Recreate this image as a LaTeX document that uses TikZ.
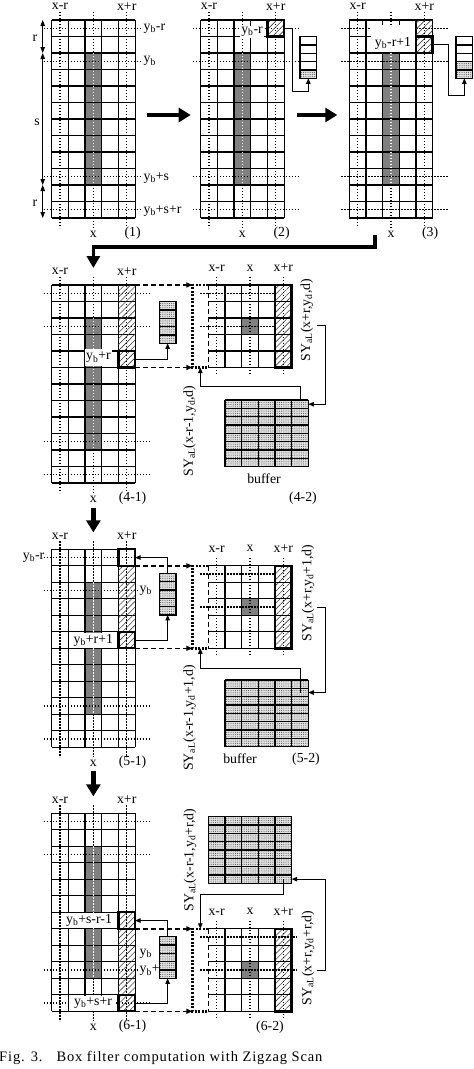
\documentclass[tikz,border=0pt]{standalone}
\usepackage{fontspec}
\setmainfont{Liberation Serif}
\newfontfamily\capfont[LetterSpace=6]{Liberation Serif}
\usepackage{tikz}
\usetikzlibrary{arrows.meta}
\usetikzlibrary{patterns.meta}
\usetikzlibrary{calc}
\tikzset{ cell_line/.style = {line width=1.1pt} }
\tikzset{ guide_line/.style = {line width=1.2pt, dash pattern=on 1.2pt off 1.8pt} }
\tikzset{ dash_line/.style = {line width=1.4pt, dash pattern=on 5pt off 3pt} }
\tikzset{ prev_col/.style = {line width=2.6pt, dash pattern=on 2pt off 1.6pt} }
\tikzset{ col_gray/.style = {fill=black!50} }
\tikzset{ hatch_fill/.style = {pattern={Lines[angle=45,distance=4.2pt,line width=0.6pt]}, pattern color=black!75} }
\tikzset{ stipple_fill/.style = {preaction={fill=black!12}, pattern={Dots[distance=2.2pt,radius=0.5pt]}, pattern color=black!70} }
\tikzset{ hot_cell/.style = {draw, line width=2.3pt, minimum width=16.67pt, minimum height=16.5pt, inner sep=0pt, outer sep=0pt} }
\tikzset{ grid_frame/.style = {inner sep=0pt, outer sep=0pt} }
\tikzset{ stack_box/.style = {fill=white, minimum width=16.67pt, minimum height=41.65pt, inner sep=0pt, outer sep=0pt} }
\tikzset{ buf_box/.style = {minimum width=83.35pt, minimum height=66.64pt, inner sep=0pt, outer sep=0pt} }
\tikzset{ lbl/.style = {font=\fontsize{13.8}{15}\selectfont, inner sep=0.5pt} }
\tikzset{ lbl_box/.style = {lbl, fill=white, inner sep=1pt} }
\tikzset{ side_lbl/.style = {lbl, rotate=90} }
\tikzset{ conn/.style = {line width=1pt, -{Triangle[length=5.5pt,width=4.5pt]}} }
\tikzset{ dim_arrow/.style = {line width=1pt, {Triangle[length=6pt,width=4.5pt]}-{Triangle[length=6pt,width=4.5pt]}} }
\tikzset{ dash_arrow/.style = {dash_line, -{Triangle[length=6pt,width=5pt]}} }
\tikzset{ big_arrow/.style = {line width=4.5pt, -{Triangle[length=12pt,width=14pt]}} }
\tikzset{ bend_arrow/.style = {line width=3.2pt, -{Triangle[length=12pt,width=13pt]}} }

\newcommand{\cellw}{16.67}
\newcommand{\cellh}{16.5}
\newcommand{\rowb}{8.33}

% 5x12 image window: name, left, top, panel label, guide overhang
\newcommand{\tallgrid}[5]{%
  \node[grid_frame, minimum width=83.35pt, minimum height=198pt] (#1) at ({#2+41.675},{#3+99}) {};
  \fill[col_gray] ({#2+2*\cellw},{#3+2*\cellh}) rectangle ++(\cellw,{8*\cellh});
  \foreach \i in {0,...,5}
    \draw[cell_line] ({#2+\i*\cellw},#3) -- ++(0,{12*\cellh});
  \foreach \j in {0,...,12}
    \draw[cell_line] (#2,{#3+\j*\cellh}) -- ++({5*\cellw},0);
  \foreach \i in {0.5,4.5}
    \draw[guide_line] ({#2+\i*\cellw},{#3-8}) -- ++(0,{12*\cellh+18});
  \draw[guide_line] ({#2+2.5*\cellw},{#3-8}) -- ++(0,{2*\cellh+8});
  \draw[guide_line, white] ({#2+2.5*\cellw},{#3+2*\cellh}) -- ++(0,{8*\cellh});
  \draw[guide_line] ({#2+2.5*\cellw},{#3+10*\cellh}) -- ++(0,{2*\cellh+10});
  \foreach \j in {0.5,2.5,9.5,11.5}
    \draw[guide_line] ({#2-8},{#3+\j*\cellh}) -- ++({5*\cellw+8+#5},0);
  \node[lbl] (#1xl) at ({#2+0.5*\cellw},{#3-13.5}) {x-r};
  \node[lbl] (#1xr) at ({#2+4.5*\cellw},{#3-13.5}) {x+r};
  \node[lbl] (#1x) at ({#2+2.5*\cellw},{#3+12*\cellh+16}) {x};
  \node[lbl] (#1n) at ({#2+4.85*\cellw},{#3+12*\cellh+15}) {#4};
}

% 5x5 window with previous column: name, left, top, row guide length
\newcommand{\smallgrid}[4]{%
  \node[grid_frame, minimum width=83.35pt, minimum height=82.5pt] (#1) at ({#2+41.675},{#3+41.25}) {};
  \node[grid_frame, minimum width=16pt, minimum height=82.5pt] (#1p) at ({#2-8},{#3+41.25}) {};
  \fill[col_gray] ({#2+2*\cellw},{#3+2*\cellh}) rectangle ++(\cellw,\cellh);
  \fill[hatch_fill] ({#2+4*\cellw},#3) rectangle ++(\cellw,{5*\cellh});
  \foreach \i in {1,...,5}
    \draw[cell_line] ({#2+\i*\cellw},#3) -- ++(0,{5*\cellh});
  \foreach \j in {0,...,5}
    \draw[cell_line] (#2,{#3+\j*\cellh}) -- ++({5*\cellw},0);
  \draw[dash_line] (#2,#3) -- ++(0,{5*\cellh});
  \foreach \i in {0.5,2.5,4.5}
    \draw[guide_line] ({#2+\i*\cellw},{#3-8}) -- ++(0,{5*\cellh+16});
  \foreach \j in {0.5,2.5}
    \draw[guide_line] ({#2-8},{#3+\j*\cellh}) -- ++(#4,0);
  \draw[line width=2.5pt] ({#2+4*\cellw},#3) rectangle ++(\cellw,{5*\cellh});
  \draw[prev_col] (#2,#3) -- ++(-16,0) -- ++(0,{5*\cellh}) -- ++(16,0);
  \node[lbl] (#1xl) at ({#2+0.5*\cellw},{#3-17}) {x-r};
  \node[lbl] (#1x) at ({#2+2.5*\cellw},{#3-17}) {x};
  \node[lbl] (#1xr) at ({#2+4.5*\cellw},{#3-17}) {x+r};
}

% column buffer: name, left, top, first filled row
\newcommand{\stackcol}[4]{%
  \node[stack_box] (#1) at ({#2+\cellw/2},{#3+20.825}) {};
  \foreach \j in {#4,...,5}
    \fill[stipple_fill] (#2,{#3+(\j-1)*\rowb}) rectangle ++(\cellw,\rowb);
  \foreach \j in {1,...,4}
    \draw[cell_line] (#2,{#3+\j*\rowb}) -- ++(\cellw,0);
  \draw[cell_line] (#2,#3) rectangle ++(\cellw,{5*\rowb});
}

% 5x8 buffer: name, left, top
\newcommand{\bufgrid}[3]{%
  \node[buf_box] (#1) at ({#2+41.675},{#3+33.32}) {};
  \fill[stipple_fill] (#2,#3) rectangle ++({5*\cellw},{8*\rowb});
  \foreach \i in {0,...,5}
    \draw[cell_line] ({#2+\i*\cellw},#3) -- ++(0,{8*\rowb});
  \foreach \j in {0,...,8}
    \draw[cell_line] (#2,{#3+\j*\rowb}) -- ++({5*\cellw},0);
}

\begin{document}
\begin{tikzpicture}[x=1pt, y=-1pt]
    \useasboundingbox (0,0) rectangle (474,1069);

    % step (1)
    \tallgrid{g1}{51.7}{20}{(1)}{6.5}
    \coordinate (dr0) at (42.7,20);
    \coordinate (dr1) at (42.7,53);
    \coordinate (dr2) at (42.7,185);
    \coordinate (dr3) at (42.7,218);
    \draw[dim_arrow] (dr0) -- (dr1);
    \draw[dim_arrow] (dr1) -- (dr2);
    \draw[dim_arrow] (dr2) -- (dr3);
    \node[lbl] (dimr1) at (35,38) {r};
    \node[lbl] (dims) at (37,122) {s};
    \node[lbl] (dimr2) at (35,203) {r};
    \node[lbl, anchor=west] (yl1) at (143,28.25) {y\textsubscript{b}-r};
    \node[lbl, anchor=west] (yl2) at (143,61.25) {y\textsubscript{b}};
    \node[lbl, anchor=west] (yl3) at (143,177.75) {y\textsubscript{b}+s};
    \node[lbl, anchor=west] (yl4) at (143,210.75) {y\textsubscript{b}+s+r};

    % step (2)
    \tallgrid{g2}{200.7}{20}{(2)}{14}
    \fill[hatch_fill] (267.38,20) rectangle ++(16.67,16.5);
    \node[hot_cell] (h2) at (275.7,28.25) {};
    \node[lbl_box] (h2l) at (252,32) {y\textsubscript{b}-r};
    \stackcol{s2}{300}{36.7}{5}
    \draw[conn] (h2.east) -- ++(8.3,0) |- ($(s2.south)+(0,13.3)$) -- (s2.south);

    % step (3)
    \tallgrid{g3}{349.3}{20}{(3)}{15.6}
    \fill[hatch_fill] (415.98,20) rectangle ++(16.67,33);
    \node[hot_cell] (h3) at (424.3,44.75) {};
    \fill[white] (371,25) rectangle (415,52);
    \node[lbl] (h3l) at (393,43) {y\textsubscript{b}-r+1};
    \stackcol{s3}{456}{36.7}{4}
    \draw[conn] (h3.east) -- ++(15.6,0) |- ($(s3.south)+(0,16.7)$) -- (s3.south);

    \draw[big_arrow] ([xshift=12pt,yshift=4pt]g1.east) -- ([xshift=-10pt,yshift=4pt]g2.west);
    \draw[big_arrow] ([xshift=13pt,yshift=4pt]g2.east) -- ([xshift=-12pt,yshift=4pt]g3.west);

    % step (4)
    \tallgrid{g41}{51.7}{285}{(4-1)}{16}
    \fill[hatch_fill] (118.38,285) rectangle ++(16.67,82.5);
    \node[hot_cell] (h41) at (126.7,359.25) {};
    \node[lbl_box, minimum width=26pt, minimum height=17pt] (h41l) at (98.5,357.5) {y\textsubscript{b}+r};
    \stackcol{s41}{159.3}{301.7}{1}
    \draw[conn] (h41.east) -| (s41.south);
    \draw[bend_arrow] ([xshift=-16pt,yshift=-17pt]g3.south) -- ++(0,12) -| ([yshift=17pt]g41.north);
    \smallgrid{g42}{208.3}{285}{75}
    \draw[dash_arrow] (g41.north east) -- (g42p.north west);
    \draw[dash_arrow] (h41.south east) -- (g42p.south west);
    \bufgrid{b42}{225}{400}
    \node[side_lbl] (l42l) at (189.5,431) {SY\textsubscript{aL}(x-r-1,y\textsubscript{d},d)};
    \node[side_lbl] (l42r) at (306.7,320) {SY\textsubscript{aL}(x+r,y\textsubscript{d},d)};
    \coordinate (l42o) at (316.7,325.9);
    \draw[conn] (l42o) -- ++(8.3,0) |- ($(b42.north east)+(0,4.2)$);
    \draw[conn] ($(b42.north east)+(-8.3,0)$) -- ++(0,-13.3) -| (g42p.south);
    \node[lbl] (b42t) at (264,478.3) {buffer};
    \node[lbl] (g42n) at (303,498) {(4-2)};

    % step (5)
    \tallgrid{g51}{51.7}{549.3}{(5-1)}{16}
    \draw[big_arrow] ([yshift=-25pt]g41.south) -- ([yshift=17pt]g51.north);
    \fill[hatch_fill] (118.38,565.8) rectangle ++(16.67,82.5);
    \node[hot_cell] (h51a) at (126.7,557.55) {};
    \node[hot_cell] (h51b) at (126.7,640.05) {};
    \node[lbl_box, minimum width=43pt, minimum height=15pt] (h51l) at (93.3,640.05) {y\textsubscript{b}+r+1};
    \node[lbl, anchor=east] (y51a) at (45,557.55) {y\textsubscript{b}-r};
    \node[lbl_box, anchor=west] (y51b) at (138.5,590.55) {y\textsubscript{b}};
    \stackcol{s51}{159.3}{573.3}{1}
    \draw[conn] (s51.north) |- (h51a.east);
    \draw[conn] (h51b.east) -| (s51.south);
    \smallgrid{g52}{208.3}{565.8}{75}
    \draw[dash_arrow] (h51a.south east) -- (g52p.north west);
    \draw[dash_arrow] (h51b.south east) -- (g52p.south west);
    \bufgrid{b52}{225}{680}
    \node[side_lbl] (l52l) at (189.5,718) {SY\textsubscript{aL}(x-r-1,y\textsubscript{d}+1,d)};
    \node[side_lbl] (l52r) at (308,593) {SY\textsubscript{aL}(x+r,y\textsubscript{d}+1,d)};
    \coordinate (l52o) at (316.7,607.05);
    \draw[conn] (l52o) -- ++(8.3,0) |- ($(b52.north east)+(0,12.5)$);
    \draw[conn] ($(b52.north east)+(-8.3,12.5)$) -- ++(0,-24.2) -| (g52p.south);
    \node[lbl] (b52t) at (240,759) {buffer};
    \node[lbl] (g52n) at (306,759) {(5-2)};

    % step (6)
    \tallgrid{g61}{51.7}{813.3}{(6-1)}{16}
    \draw[big_arrow] ([yshift=-24pt]g51.south) -- ([yshift=17pt]g61.north);
    \fill[hatch_fill] (118.38,912.3) rectangle ++(16.67,99);
    \node[hot_cell] (h61a) at (126.7,920.55) {};
    \node[hot_cell] (h61b) at (126.7,1003.05) {};
    \node[lbl_box, minimum width=51pt, minimum height=15pt] (h61l) at (89,920.55) {y\textsubscript{b}+s-r-1};
    \node[lbl_box, minimum width=44pt, minimum height=15pt] (h61m) at (93,1003.05) {y\textsubscript{b}+s+r};
    \node[lbl_box, anchor=west] (y61a) at (138.5,953.5) {y\textsubscript{b}};
    \node[lbl_box, anchor=west] (y61b) at (138.5,970.5) {y\textsubscript{b}+s};
    \stackcol{s61}{159.3}{936.7}{1}
    \draw[conn] (s61.north) |- (h61a.east);
    \draw[conn] (h61b.east) -| (s61.south);
    \smallgrid{g62}{208.3}{928.8}{96.7}
    \draw[dash_arrow] (h61a.south east) -- (g62p.north west);
    \draw[dash_arrow] (g61.south east) -- (g62p.south west);
    \bufgrid{b62}{208.3}{816.7}
    \node[side_lbl] (l62l) at (190,860) {SY\textsubscript{aL}(x-r-1,y\textsubscript{d}+r,d)};
    \node[side_lbl] (l62r) at (308,958) {SY\textsubscript{aL}(x+r,y\textsubscript{d}+r,d)};
    \coordinate (l62o) at (316.7,970.05);
    \draw[conn] (l62o) -- ++(8.3,0) |- ($(b62.south east)+(0,-4.2)$);
    \draw[conn] ($(b62.south east)+(-8.3,-4.2)$) -- ++(0,15.8) -| (g62p.north);
    \node[lbl] (g62n) at (270,1026.7) {(6-2)};

    \node[anchor=west, inner sep=0pt, font=\capfont\fontsize{14.5}{16}\selectfont] (cap) at (-1,1058) {Fig. 3.\hspace{14pt}Box filter computation with Zigzag Scan};
\end{tikzpicture}
\end{document}
